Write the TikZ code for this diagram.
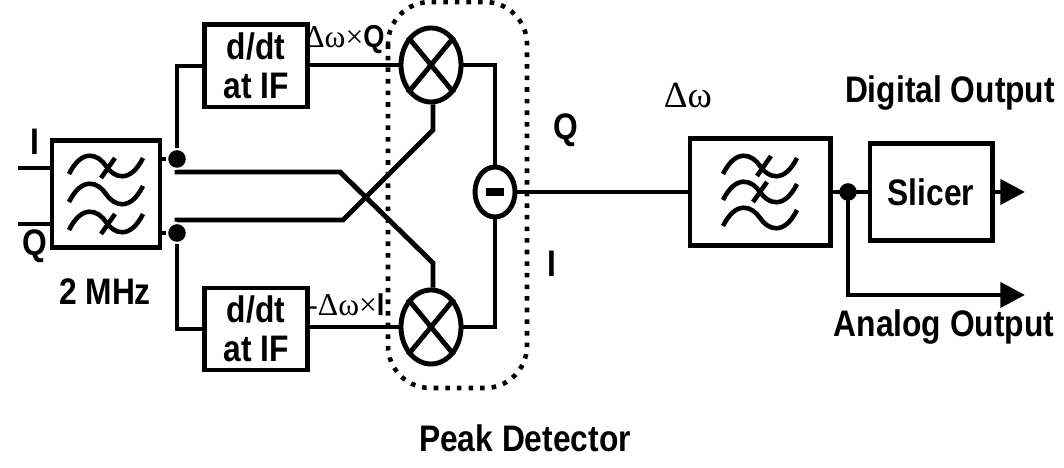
\documentclass[tikz,border=0pt]{standalone}
\usepackage{fontspec}
\setmainfont[FakeStretch=0.86]{Liberation Sans}
\newfontfamily\serifgr{Liberation Serif}
\usetikzlibrary{shapes.geometric,arrows.meta}
\begin{document}
\begin{tikzpicture}[x=0.01cm,y=-0.01cm,line width=1.4pt,
  blk/.style={draw,rectangle,inner sep=0pt,font=\bfseries\fontsize{10.5}{11}\selectfont,align=center},
  mix/.style={draw,ellipse,minimum width=0.6cm,minimum height=0.74cm,inner sep=0pt},
  lbl/.style={font=\bfseries\fontsize{10.5}{11}\selectfont,inner sep=1pt},
  gr/.style={font=\serifgr\fontsize{10.5}{11}\selectfont,inner sep=1pt},
  grs/.style={font=\serifgr\fontsize{9}{10}\selectfont,inner sep=0pt},
  dot/.style={circle,fill,inner sep=0pt,minimum size=5pt},
  wave/.pic={\draw[line width=1.3pt] (-37,8) .. controls (-24,-18) and (-8,-12) .. (0,0) .. controls (8,12) and (24,18) .. (37,-8);},
  slash/.pic={\draw[line width=1.3pt] (-5,10) -- (9,-10);}]
\useasboundingbox (0,0) rectangle (1064,468);

% left filter
\node[blk,minimum width=1.08cm,minimum height=1.07cm] (f1) at (106,194) {};
\pic at (106,166) {wave}; \pic at (106,168) {slash};
\pic at (106,194) {wave};
\pic at (106,222) {wave}; \pic at (106,224) {slash};
\coordinate (iin) at (18,168);
\coordinate (qin) at (18,224);
\draw (iin) -- (iin -| f1.west);
\draw (qin) -- (qin -| f1.west);
\node[lbl] (li) at (35,142) {I};
\node[lbl] (lq) at (35,246) {Q};
\node[lbl] (lmhz) at (105,292) {2 MHz};

% derivative blocks
\node[blk,minimum width=1.03cm,minimum height=0.82cm] (d1) at (256,66) {d/dt\\at IF};
\node[blk,minimum width=1.03cm,minimum height=0.82cm] (d2) at (256,329) {d/dt\\at IF};

% junctions
\node[dot] (j1) at (177,159) {};
\node[dot] (j2) at (177,233) {};
\draw (f1.east |- j1) -- (j1);
\draw (f1.east |- j2) -- (j2);
\draw (j1) |- (d1.west);
\draw (j2) |- (d2.west);

% mixers
\node[mix] (m1) at (431,65) {};
\node[mix] (m2) at (431,327) {};
\foreach \m in {m1,m2}{
  \draw (\m.north west) -- (\m.south east);
  \draw (\m.north east) -- (\m.south west);}
\draw (d1.east |- m1) -- (m1.west);
\draw (d2.east |- m2) -- (m2.west);

% cross connections
\coordinate (c1) at (340,172);
\coordinate (c2) at (433,263);
\coordinate (c3) at (343,220);
\coordinate (c4) at (433,130);
\draw (j1) |- (c1) -- (c2) -- (c2 |- m2.north);
\draw (j2) |- (c3) -- (c4) -- (c4 |- m1.south);

% subtractor
\node[draw,ellipse,minimum width=0.4cm,minimum height=0.5cm,inner sep=0pt] (sub) at (495,192) {};
\draw[line width=2.4pt] (486,192) -- (504,192);
\draw (m1.east) -| (sub.north);
\draw (m2.east) -| (sub.south);

% peak detector
\draw[dotted,line width=1.3pt,rounded corners=12pt] (388,2) rectangle (527,388);
\node[lbl] (lpk) at (525,438) {Peak Detector};

% labels
\node[grs,anchor=south east] (lq1) at (387,56) {Δω×\textbf{\fontspec[FakeStretch=0.86]{Liberation Sans}Q}};
\node[grs,anchor=south east] (li1) at (387,318) {-Δω×\textbf{\fontspec[FakeStretch=0.86]{Liberation Sans}I}};
\node[lbl] (lq2) at (566,130) {Q};
\node[lbl] (li2) at (552,264) {I};

% output filter
\node[blk,minimum width=1.4cm,minimum height=1.07cm] (f2) at (760,192) {};
\pic at (760,166) {wave}; \pic at (762,166) {slash};
\pic at (760,192) {wave}; \pic at (758,192) {slash};
\pic at (760,218) {wave};
\draw (sub.east) -- (f2.west);
\node[gr] (ldw) at (688,96) {Δω};

% slicer and outputs
\node[blk,minimum width=1.22cm,minimum height=0.97cm] (sl) at (931,192) {Slicer};
\node[dot] (j3) at (848,192) {};
\draw (f2.east) -- (sl.west);
\coordinate (o1) at (1025,192);
\coordinate (o2) at (1025,295);
\draw[-{Triangle[length=7pt,width=7pt]}] (sl.east) -- (o1);
\draw[-{Triangle[length=7pt,width=7pt]}] (j3.center) |- (o2);
\node[lbl] (ldig) at (950,93) {Digital Output};
\node[lbl] (lana) at (944,327) {Analog Output};
\end{tikzpicture}
\end{document}
